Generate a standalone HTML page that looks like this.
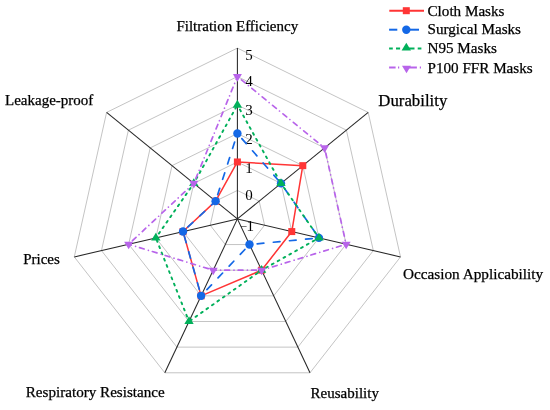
<!DOCTYPE html>
<html><head><meta charset="utf-8"><style>
html,body{margin:0;padding:0;background:#fff;width:550px;height:410px;overflow:hidden}
text{stroke:#000;stroke-width:0.25px}
text.t{stroke:none}
svg{display:block}
</style></head><body>
<svg width="550" height="410" viewBox="0 0 550 410">
<polygon points="237.40,190.43 259.20,201.15 264.58,225.23 249.50,244.55 225.30,244.55 210.22,225.23 215.60,201.15" fill="none" stroke="#c4c4c4" stroke-width="1"/>
<polygon points="237.40,161.97 281.00,183.40 291.77,231.57 261.60,270.20 213.20,270.20 183.03,231.57 193.80,183.40" fill="none" stroke="#c4c4c4" stroke-width="1"/>
<polygon points="237.40,133.50 302.80,165.65 318.95,237.90 273.69,295.84 201.11,295.84 155.85,237.90 172.00,165.65" fill="none" stroke="#c4c4c4" stroke-width="1"/>
<polygon points="237.40,105.03 324.60,147.91 346.14,244.24 285.79,321.49 189.01,321.49 128.66,244.24 150.20,147.91" fill="none" stroke="#c4c4c4" stroke-width="1"/>
<polygon points="237.40,76.57 346.40,130.16 373.32,250.57 297.89,347.14 176.91,347.14 101.48,250.57 128.40,130.16" fill="none" stroke="#c4c4c4" stroke-width="1"/>
<polygon points="237.40,48.10 368.20,112.41 400.51,256.91 309.99,372.79 164.81,372.79 74.29,256.91 106.60,112.41" fill="none" stroke="#c4c4c4" stroke-width="1"/>
<line x1="237.4" y1="218.9" x2="237.40" y2="48.10" stroke="#262626" stroke-width="1.05"/>
<line x1="237.4" y1="218.9" x2="368.20" y2="112.41" stroke="#262626" stroke-width="1.05"/>
<line x1="237.4" y1="218.9" x2="400.51" y2="256.91" stroke="#262626" stroke-width="1.05"/>
<line x1="237.4" y1="218.9" x2="309.99" y2="372.79" stroke="#262626" stroke-width="1.05"/>
<line x1="237.4" y1="218.9" x2="164.81" y2="372.79" stroke="#262626" stroke-width="1.05"/>
<line x1="237.4" y1="218.9" x2="74.29" y2="256.91" stroke="#262626" stroke-width="1.05"/>
<line x1="237.4" y1="218.9" x2="106.60" y2="112.41" stroke="#262626" stroke-width="1.05"/>
<text class="t" x="252.8" y="59.9" text-anchor="end" font-family='"Liberation Serif","Times New Roman",serif' font-size="15" fill="#000">5</text>
<text class="t" x="252.8" y="85.6" text-anchor="end" font-family='"Liberation Serif","Times New Roman",serif' font-size="15" fill="#000">4</text>
<text class="t" x="252.8" y="114.6" text-anchor="end" font-family='"Liberation Serif","Times New Roman",serif' font-size="15" fill="#000">3</text>
<text class="t" x="252.8" y="143.6" text-anchor="end" font-family='"Liberation Serif","Times New Roman",serif' font-size="15" fill="#000">2</text>
<text class="t" x="252.8" y="172.8" text-anchor="end" font-family='"Liberation Serif","Times New Roman",serif' font-size="15" fill="#000">1</text>
<text class="t" x="252.8" y="199.8" text-anchor="end" font-family='"Liberation Serif","Times New Roman",serif' font-size="15" fill="#000">0</text>
<text class="t" x="254.0" y="230.6" text-anchor="end" font-family='"Liberation Serif","Times New Roman",serif' font-size="15" fill="#000"><tspan font-size="11" dy="-1.6">&#8211;</tspan><tspan dy="1.6">1</tspan></text>
<polygon points="237.40,161.97 302.80,165.65 291.77,231.57 261.60,270.20 201.11,295.84 183.03,231.57 215.60,201.15" fill="none" stroke="#FF3535" stroke-width="1.5" stroke-linejoin="round"/>
<rect x="233.90" y="158.47" width="7" height="7" fill="#FF3535"/>
<rect x="299.30" y="162.15" width="7" height="7" fill="#FF3535"/>
<rect x="288.27" y="228.07" width="7" height="7" fill="#FF3535"/>
<rect x="258.10" y="266.70" width="7" height="7" fill="#FF3535"/>
<rect x="197.61" y="292.34" width="7" height="7" fill="#FF3535"/>
<rect x="179.53" y="228.07" width="7" height="7" fill="#FF3535"/>
<rect x="212.10" y="197.65" width="7" height="7" fill="#FF3535"/>
<path d="M237.40 133.50L281.00 183.40M281.00 183.40L318.95 237.90M318.95 237.90L249.50 244.55M249.50 244.55L201.11 295.84M201.11 295.84L183.03 231.57M183.03 231.57L215.60 201.15M215.60 201.15L237.40 133.50" fill="none" stroke="#1468E6" stroke-width="1.7" stroke-dasharray="6.7 9.5" stroke-dashoffset="9.45" stroke-linecap="round"/>
<circle cx="237.40" cy="133.50" r="4.2" fill="#1468E6"/>
<circle cx="281.00" cy="183.40" r="4.2" fill="#1468E6"/>
<circle cx="318.95" cy="237.90" r="4.2" fill="#1468E6"/>
<circle cx="249.50" cy="244.55" r="4.2" fill="#1468E6"/>
<circle cx="201.11" cy="295.84" r="4.2" fill="#1468E6"/>
<circle cx="183.03" cy="231.57" r="4.2" fill="#1468E6"/>
<circle cx="215.60" cy="201.15" r="4.2" fill="#1468E6"/>
<path d="M237.40 105.03L281.00 183.40M281.00 183.40L318.95 237.90M318.95 237.90L261.60 270.20M261.60 270.20L189.01 321.49M189.01 321.49L155.85 237.90M155.85 237.90L193.80 183.40M193.80 183.40L237.40 105.03" fill="none" stroke="#00B05A" stroke-width="1.9" stroke-dasharray="1.9 4.8" stroke-dashoffset="1.45" stroke-linecap="round"/>
<polygon points="237.40,99.83 242.10,107.63 232.70,107.63" fill="#00B05A"/>
<polygon points="281.00,178.20 285.70,186.00 276.30,186.00" fill="#00B05A"/>
<polygon points="318.95,232.70 323.65,240.50 314.25,240.50" fill="#00B05A"/>
<polygon points="261.60,265.00 266.30,272.80 256.90,272.80" fill="#00B05A"/>
<polygon points="189.01,316.29 193.71,324.09 184.31,324.09" fill="#00B05A"/>
<polygon points="155.85,232.70 160.55,240.50 151.15,240.50" fill="#00B05A"/>
<polygon points="193.80,178.20 198.50,186.00 189.10,186.00" fill="#00B05A"/>
<path d="M237.40 76.57L324.60 147.91M324.60 147.91L346.14 244.24M346.14 244.24L261.60 270.20M261.60 270.20L213.20 270.20M213.20 270.20L128.66 244.24M128.66 244.24L193.80 183.40M193.80 183.40L237.40 76.57" fill="none" stroke="#B864EA" stroke-width="1.7" stroke-dasharray="4.8 4.15 0 4.45" stroke-dashoffset="8.15" stroke-linecap="round"/>
<polygon points="232.90,74.03 241.90,74.03 237.40,81.63" fill="#B864EA"/>
<polygon points="320.10,145.37 329.10,145.37 324.60,152.97" fill="#B864EA"/>
<polygon points="341.64,241.70 350.64,241.70 346.14,249.30" fill="#B864EA"/>
<polygon points="257.10,267.66 266.10,267.66 261.60,275.26" fill="#B864EA"/>
<polygon points="208.70,267.66 217.70,267.66 213.20,275.26" fill="#B864EA"/>
<polygon points="124.16,241.70 133.16,241.70 128.66,249.30" fill="#B864EA"/>
<polygon points="189.30,180.87 198.30,180.87 193.80,188.47" fill="#B864EA"/>
<text x="176.4" y="31.3" font-family='"Liberation Serif","Times New Roman",serif' font-size="15" fill="#000">Filtration Efficiency</text>
<text x="378.3" y="106.2" font-family='"Liberation Serif","Times New Roman",serif' font-size="16.8" fill="#000">Durability</text>
<text x="403.0" y="279.0" font-family='"Liberation Serif","Times New Roman",serif' font-size="15.25" fill="#000">Occasion Applicability</text>
<text x="310.6" y="397.9" font-family='"Liberation Serif","Times New Roman",serif' font-size="15" fill="#000">Reusability</text>
<text x="25.8" y="397.0" font-family='"Liberation Serif","Times New Roman",serif' font-size="15.12" fill="#000">Respiratory Resistance</text>
<text x="23.2" y="263.5" font-family='"Liberation Serif","Times New Roman",serif' font-size="15" fill="#000">Prices</text>
<text x="5.0" y="104.6" font-family='"Liberation Serif","Times New Roman",serif' font-size="15" fill="#000">Leakage-proof</text>
<line x1="389.3" y1="10.7" x2="424" y2="10.7" stroke="#FF3535" stroke-width="2"/>
<rect x="402.80" y="7.20" width="7" height="7" fill="#FF3535"/>
<line x1="389.1" y1="29.7" x2="397.3" y2="29.7" stroke="#1468E6" stroke-width="2"/>
<line x1="406" y1="29.7" x2="419" y2="29.7" stroke="#1468E6" stroke-width="2"/>
<circle cx="406.30" cy="29.70" r="4.2" fill="#1468E6"/>
<line x1="389.1" y1="48.5" x2="392.8" y2="48.5" stroke="#00B05A" stroke-width="2"/>
<line x1="396.0" y1="48.5" x2="400.1" y2="48.5" stroke="#00B05A" stroke-width="2"/>
<line x1="404" y1="48.5" x2="414.5" y2="48.5" stroke="#00B05A" stroke-width="2"/>
<line x1="417.7" y1="48.5" x2="421.4" y2="48.5" stroke="#00B05A" stroke-width="2"/>
<polygon points="406.30,42.80 411.00,50.60 401.60,50.60" fill="#00B05A"/>
<line x1="389.1" y1="67.5" x2="395.6" y2="67.5" stroke="#B864EA" stroke-width="2"/>
<line x1="398.0" y1="67.5" x2="399.2" y2="67.5" stroke="#B864EA" stroke-width="2"/>
<line x1="404" y1="67.5" x2="416.9" y2="67.5" stroke="#B864EA" stroke-width="2"/>
<line x1="419.8" y1="67.5" x2="421.0" y2="67.5" stroke="#B864EA" stroke-width="2"/>
<polygon points="402.00,65.77 411.00,65.77 406.50,73.37" fill="#B864EA"/>
<text x="427.5" y="16.1" font-family='"Liberation Serif","Times New Roman",serif' font-size="15.15" fill="#000">Cloth Masks</text>
<text x="427.5" y="34.3" font-family='"Liberation Serif","Times New Roman",serif' font-size="15.15" fill="#000">Surgical Masks</text>
<text x="427.5" y="53.4" font-family='"Liberation Serif","Times New Roman",serif' font-size="15.15" fill="#000">N95 Masks</text>
<text x="427.5" y="72.5" font-family='"Liberation Serif","Times New Roman",serif' font-size="15.15" fill="#000">P100 FFR Masks</text>
</svg>
</body></html>
